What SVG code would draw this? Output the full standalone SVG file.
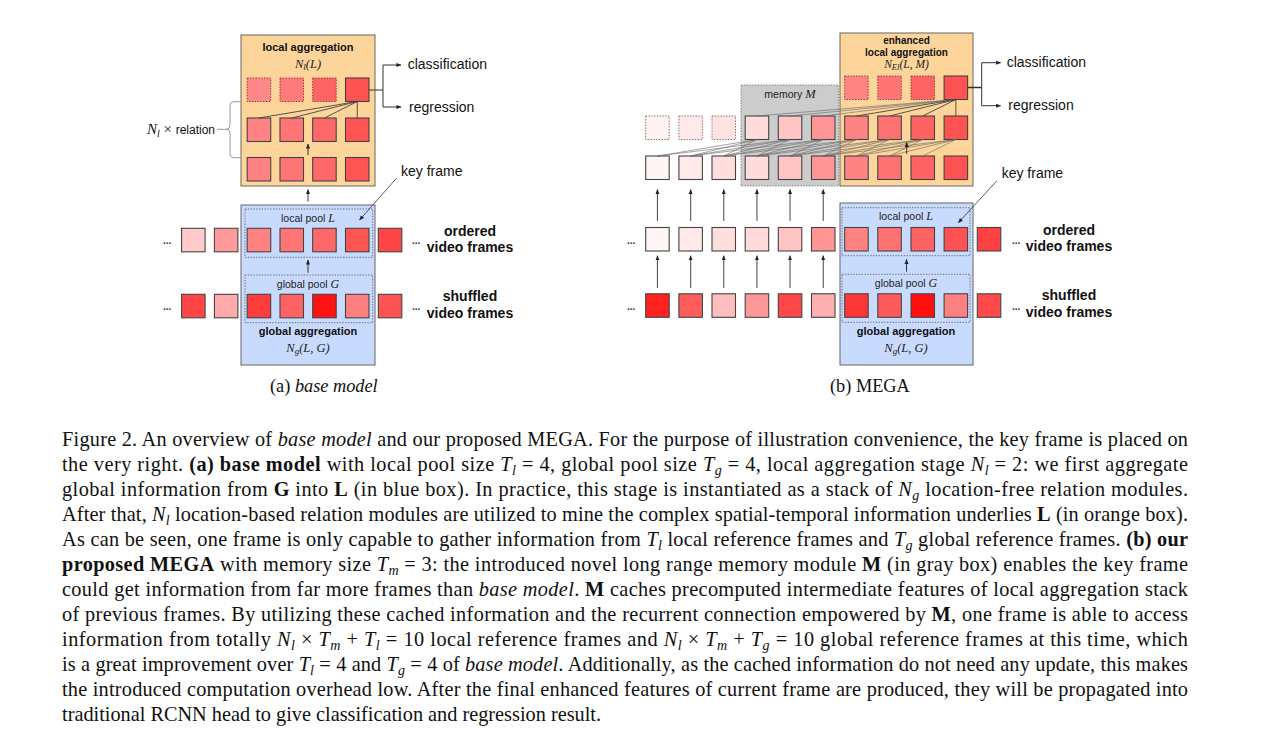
<svg xmlns="http://www.w3.org/2000/svg" width="1280" height="737" viewBox="0 0 1280 737">
<defs>
<style>
.sq{stroke:#444;stroke-width:1.1}
.dsq{stroke:#8a3a3a;stroke-width:1;stroke-dasharray:1.4 1.4}
.fsq{stroke:#8a6a6a;stroke-width:1;stroke-dasharray:1.4 1.4}
.pool{fill:none;stroke:#666;stroke-width:0.9;stroke-dasharray:1.4 1.4}
.ln{stroke:#333;stroke-width:1;fill:none}
.gl{stroke:#555;stroke-width:1.1;fill:none}
.th{stroke:#666;stroke-width:0.6;fill:none}
.sans{font-family:"Liberation Sans",Arial,sans-serif;fill:#111}
.b11{font-family:"Liberation Sans",Arial,sans-serif;font-weight:bold;font-size:11px;fill:#111}
.b10{font-family:"Liberation Sans",Arial,sans-serif;font-weight:bold;font-size:10px;fill:#111}
.b14{font-family:"Liberation Sans",Arial,sans-serif;font-weight:bold;font-size:14px;fill:#111}
.s14{font-family:"Liberation Sans",Arial,sans-serif;font-size:14px;fill:#111}
.s10{font-family:"Liberation Sans",Arial,sans-serif;font-size:10.5px;fill:#222}
.mi{font-family:"Liberation Serif","Times New Roman",serif;font-style:italic}
.cap{font-family:"Liberation Serif","Times New Roman",serif;font-size:20.3px;fill:#111}
.subcap{font-family:"Liberation Serif","Times New Roman",serif;font-size:18.3px;fill:#111}
.sub{font-size:14px;font-style:italic}
.bd{font-weight:bold}
.it{font-style:italic}
.dots{font-family:"Liberation Sans",Arial,sans-serif;font-size:10px;font-weight:bold;fill:#333}
</style>
<marker id="ah" viewBox="0 0 6 6" refX="5.5" refY="3" markerWidth="5" markerHeight="5" orient="auto" markerUnits="userSpaceOnUse"><path d="M0,0.6 L6,3 L0,5.4 z" fill="#222"/></marker>
</defs>
<rect width="1280" height="737" fill="#ffffff"/>

<!-- ============ LEFT: base model ============ -->
<g id="left-local-aggregation">
<rect x="241" y="35" width="134" height="151" fill="#fdd59b" stroke="#666" stroke-width="1"/>
<text class="b11" x="308" y="51" text-anchor="middle">local aggregation</text>
<text x="308" y="68" text-anchor="middle" class="mi" font-size="12.5px" fill="#222">N<tspan font-size="9px" dy="2">l</tspan><tspan dy="-2">(L)</tspan></text>
<rect class="dsq" x="247.2" y="78" width="23.5" height="23.5" fill="#ff8888"/>
<rect class="dsq" x="280" y="78" width="23.5" height="23.5" fill="#ff7a7a"/>
<rect class="dsq" x="312.7" y="78" width="23.5" height="23.5" fill="#ff6363"/>
<rect class="sq" x="345.5" y="78" width="23.5" height="23.5" fill="#ff5252"/>
<rect class="sq" x="247.2" y="118" width="23.5" height="23.5" fill="#ff8383"/>
<rect class="sq" x="280" y="118" width="23.5" height="23.5" fill="#ff7575"/>
<rect class="sq" x="312.7" y="118" width="23.5" height="23.5" fill="#ff6868"/>
<rect class="sq" x="345.5" y="118" width="23.5" height="23.5" fill="#ff5555"/>
<rect class="sq" x="247.2" y="157.5" width="23.5" height="23.5" fill="#ff8383"/>
<rect class="sq" x="280" y="157.5" width="23.5" height="23.5" fill="#ff7575"/>
<rect class="sq" x="312.7" y="157.5" width="23.5" height="23.5" fill="#ff6868"/>
<rect class="sq" x="345.5" y="157.5" width="23.5" height="23.5" fill="#ff5555"/>
</g>

<g id="left-global-aggregation">
<rect x="241" y="205" width="134" height="160" fill="#c8dafe" stroke="#666" stroke-width="1"/>
<rect class="pool" x="245" y="209" width="127.7" height="48.3"/>
<rect class="pool" x="245" y="275" width="127.7" height="47.7"/>
<text class="s10" x="308" y="222.3" text-anchor="middle">local pool <tspan class="mi" font-size="12px">L</tspan></text>
<text class="s10" x="308" y="288.3" text-anchor="middle">global pool <tspan class="mi" font-size="12px">G</tspan></text>
<text class="b11" x="308" y="335" text-anchor="middle">global aggregation</text>
<text x="308" y="352" text-anchor="middle" class="mi" font-size="12.5px" fill="#222">N<tspan font-size="9px" dy="2">g</tspan><tspan dy="-2">(L, G)</tspan></text>
</g>

<g id="left-ordered-frames">
<rect class="sq" x="181.6" y="228.3" width="23.5" height="23.5" fill="#ffcaca"/>
<rect class="sq" x="214.4" y="228.3" width="23.5" height="23.5" fill="#ff9a9a"/>
<rect class="sq" x="247.2" y="228.3" width="23.5" height="23.5" fill="#ff8383"/>
<rect class="sq" x="280" y="228.3" width="23.5" height="23.5" fill="#ff7575"/>
<rect class="sq" x="312.7" y="228.3" width="23.5" height="23.5" fill="#ff6868"/>
<rect class="sq" x="345.5" y="228.3" width="23.5" height="23.5" fill="#ff5555"/>
<rect class="sq" x="378.3" y="228.3" width="23.5" height="23.5" fill="#ff4646"/>
<text class="dots" x="163" y="244">...</text>
<text class="dots" x="412" y="244">...</text>
<text class="b14" x="470" y="235.5" text-anchor="middle">ordered</text>
<text class="b14" x="470" y="252" text-anchor="middle">video frames</text>
</g>

<g id="left-shuffled-frames">
<rect class="sq" x="181.6" y="294.3" width="23.5" height="23.5" fill="#ff4646"/>
<rect class="sq" x="214.4" y="294.3" width="23.5" height="23.5" fill="#ffaaaa"/>
<rect class="sq" x="247.2" y="294.3" width="23.5" height="23.5" fill="#ff3c3c"/>
<rect class="sq" x="280" y="294.3" width="23.5" height="23.5" fill="#ff6262"/>
<rect class="sq" x="312.7" y="294.3" width="23.5" height="23.5" fill="#ff1212"/>
<rect class="sq" x="345.5" y="294.3" width="23.5" height="23.5" fill="#ff8080"/>
<rect class="sq" x="378.3" y="294.3" width="23.5" height="23.5" fill="#ff5252"/>
<text class="dots" x="163" y="310">...</text>
<text class="dots" x="412" y="310">...</text>
<text class="b14" x="470" y="301" text-anchor="middle">shuffled</text>
<text class="b14" x="470" y="318" text-anchor="middle">video frames</text>
</g>

<g id="left-labels">
<text class="s14" x="407.7" y="69">classification</text>
<text class="s14" x="409" y="111.7">regression</text>
<text class="s14" x="401" y="175.7">key frame</text>
<text x="215" y="133.5" text-anchor="end" fill="#111"><tspan class="mi" font-size="15px">N</tspan><tspan class="mi" font-size="10px" dy="3">l</tspan><tspan dy="-3" font-family="Liberation Serif,serif" font-size="15px"> × </tspan><tspan class="sans" font-size="12px">relation</tspan></text>
</g>

<g id="left-connectors">
<path class="th" style="stroke:#444;stroke-width:0.9" d="M357.25,101.5 L258.95,118 M357.25,101.5 L291.75,118 M357.25,101.5 L324.45,118 M357.25,101.5 L357.25,118"/>
<path class="ln" d="M369,90 H383 M383,65 V107"/>
<path class="ln" marker-end="url(#ah)" d="M383,65 H401"/>
<path class="ln" marker-end="url(#ah)" d="M383,107 H401"/>
<path d="M241,101.7 H234 Q230,101.7 230,105.7 V125.3 Q230,129.3 226,129.3 H217 M226,129.3 Q230,129.3 230,133.3 V153.7 Q230,157.7 234,157.7 H241" fill="none" stroke="#999" stroke-width="1"/>
<path class="ln" marker-end="url(#ah)" d="M308,155 V144"/>
<path class="ln" marker-end="url(#ah)" d="M308,201.5 V189.5"/>
<path class="ln" marker-end="url(#ah)" d="M308,272.7 V260"/>
<path class="ln" style="stroke-width:0.8" marker-end="url(#ah)" d="M396.7,178 L359.5,220"/>
</g>

<!-- ============ RIGHT: MEGA ============ -->
<g id="right-memory">
<rect x="741" y="85" width="97.5" height="101" fill="#cccccc" stroke="#777" stroke-width="0.9" stroke-dasharray="1.4 1.4"/>
<text class="s10" x="790" y="98" text-anchor="middle">memory <tspan class="mi" font-size="12.5px">M</tspan></text>
</g>

<g id="right-enhanced-local-aggregation">
<rect x="840" y="33" width="133" height="153" fill="#fdd59b" stroke="#666" stroke-width="1"/>
<text class="b10" x="906.5" y="43.5" text-anchor="middle">enhanced</text>
<text class="b10" x="906.5" y="55.7" text-anchor="middle">local aggregation</text>
<text x="906.5" y="68" text-anchor="middle" class="mi" font-size="11.5px" fill="#222">N<tspan font-size="8.5px" dy="2">El</tspan><tspan dy="-2">(L, M)</tspan></text>
</g>

<g id="right-row1">
<rect class="dsq" x="844.7" y="76" width="23.5" height="23.5" fill="#ff8585"/>
<rect class="dsq" x="877.8" y="76" width="23.5" height="23.5" fill="#ff7575"/>
<rect class="dsq" x="911" y="76" width="23.5" height="23.5" fill="#ff6464"/>
<rect class="sq" x="944.1" y="76" width="23.5" height="23.5" fill="#ff5252"/>
</g>

<g id="right-row2">
<rect class="fsq" x="645.7" y="116" width="23.5" height="23.5" fill="#fff2f2"/>
<rect class="fsq" x="678.9" y="116" width="23.5" height="23.5" fill="#ffe9e9"/>
<rect class="fsq" x="712" y="116" width="23.5" height="23.5" fill="#ffe2e2"/>
<rect class="sq" x="745.2" y="116" width="23.5" height="23.5" fill="#ffdcdc"/>
<rect class="sq" x="778.3" y="116" width="23.5" height="23.5" fill="#ffc4c4"/>
<rect class="sq" x="811.5" y="116" width="23.5" height="23.5" fill="#ff9595"/>
<rect class="sq" x="844.7" y="116" width="23.5" height="23.5" fill="#ff8383"/>
<rect class="sq" x="877.8" y="116" width="23.5" height="23.5" fill="#ff7272"/>
<rect class="sq" x="911" y="116" width="23.5" height="23.5" fill="#ff6262"/>
<rect class="sq" x="944.1" y="116" width="23.5" height="23.5" fill="#ff5252"/>
</g>

<g id="right-row3">
<rect class="sq" x="645.7" y="156" width="23.5" height="23.5" fill="#fff5f5"/>
<rect class="sq" x="678.9" y="156" width="23.5" height="23.5" fill="#ffe9e9"/>
<rect class="sq" x="712" y="156" width="23.5" height="23.5" fill="#ffdede"/>
<rect class="sq" x="745.2" y="156" width="23.5" height="23.5" fill="#ffdcdc"/>
<rect class="sq" x="778.3" y="156" width="23.5" height="23.5" fill="#ffc4c4"/>
<rect class="sq" x="811.5" y="156" width="23.5" height="23.5" fill="#ff9595"/>
<rect class="sq" x="844.7" y="156" width="23.5" height="23.5" fill="#ff8383"/>
<rect class="sq" x="877.8" y="156" width="23.5" height="23.5" fill="#ff7272"/>
<rect class="sq" x="911" y="156" width="23.5" height="23.5" fill="#ff6262"/>
<rect class="sq" x="944.1" y="156" width="23.5" height="23.5" fill="#ff5252"/>
</g>

<g id="right-global-aggregation">
<rect x="840" y="203" width="133" height="162" fill="#c8dafe" stroke="#666" stroke-width="1"/>
<rect class="pool" x="842" y="207.7" width="128" height="48"/>
<rect class="pool" x="842" y="274.3" width="128" height="48"/>
<text class="s10" x="906" y="220" text-anchor="middle">local pool <tspan class="mi" font-size="12px">L</tspan></text>
<text class="s10" x="906" y="286.7" text-anchor="middle">global pool <tspan class="mi" font-size="12px">G</tspan></text>
<text class="b11" x="906" y="335" text-anchor="middle">global aggregation</text>
<text x="906" y="352" text-anchor="middle" class="mi" font-size="12.5px" fill="#222">N<tspan font-size="9px" dy="2">g</tspan><tspan dy="-2">(L, G)</tspan></text>
</g>

<g id="right-ordered-frames">
<rect class="sq" x="645.7" y="227.5" width="23.5" height="23.5" fill="#fff5f5"/>
<rect class="sq" x="678.9" y="227.5" width="23.5" height="23.5" fill="#ffe9e9"/>
<rect class="sq" x="712" y="227.5" width="23.5" height="23.5" fill="#ffdede"/>
<rect class="sq" x="745.2" y="227.5" width="23.5" height="23.5" fill="#ffdada"/>
<rect class="sq" x="778.3" y="227.5" width="23.5" height="23.5" fill="#ffc4c4"/>
<rect class="sq" x="811.5" y="227.5" width="23.5" height="23.5" fill="#ff9595"/>
<rect class="sq" x="844.7" y="227.5" width="23.5" height="23.5" fill="#ff8383"/>
<rect class="sq" x="877.8" y="227.5" width="23.5" height="23.5" fill="#ff7272"/>
<rect class="sq" x="911" y="227.5" width="23.5" height="23.5" fill="#ff6262"/>
<rect class="sq" x="944.1" y="227.5" width="23.5" height="23.5" fill="#ff5252"/>
<rect class="sq" x="977.3" y="227.5" width="23.5" height="23.5" fill="#ff4242"/>
<text class="dots" x="627" y="243.5">...</text>
<text class="dots" x="1012" y="243.5">...</text>
<text class="b14" x="1069" y="234.5" text-anchor="middle">ordered</text>
<text class="b14" x="1069" y="251" text-anchor="middle">video frames</text>
</g>

<g id="right-shuffled-frames">
<rect class="sq" x="645.7" y="293.8" width="23.5" height="23.5" fill="#ff2020"/>
<rect class="sq" x="678.9" y="293.8" width="23.5" height="23.5" fill="#ff5c5c"/>
<rect class="sq" x="712" y="293.8" width="23.5" height="23.5" fill="#ffbebe"/>
<rect class="sq" x="745.2" y="293.8" width="23.5" height="23.5" fill="#ff9898"/>
<rect class="sq" x="778.3" y="293.8" width="23.5" height="23.5" fill="#ff4848"/>
<rect class="sq" x="811.5" y="293.8" width="23.5" height="23.5" fill="#ffb0b0"/>
<rect class="sq" x="844.7" y="293.8" width="23.5" height="23.5" fill="#ff3636"/>
<rect class="sq" x="877.8" y="293.8" width="23.5" height="23.5" fill="#ff5a5a"/>
<rect class="sq" x="911" y="293.8" width="23.5" height="23.5" fill="#ff1010"/>
<rect class="sq" x="944.1" y="293.8" width="23.5" height="23.5" fill="#ff8080"/>
<rect class="sq" x="977.3" y="293.8" width="23.5" height="23.5" fill="#ff4a4a"/>
<text class="dots" x="627" y="309.5">...</text>
<text class="dots" x="1012" y="309.5">...</text>
<text class="b14" x="1069" y="300" text-anchor="middle">shuffled</text>
<text class="b14" x="1069" y="317" text-anchor="middle">video frames</text>
</g>

<g id="right-labels">
<text class="s14" x="1006.7" y="67">classification</text>
<text class="s14" x="1008.3" y="109.5">regression</text>
<text class="s14" x="1001.7" y="177.7">key frame</text>
</g>

<g id="right-connectors">
<path class="th" d="M756.95,139.5 L723.75,156 M756.95,139.5 L690.65,156 M756.95,139.5 L657.45,156 M790.05,139.5 L756.95,156 M790.05,139.5 L723.75,156 M790.05,139.5 L690.65,156 M790.05,139.5 L657.45,156 M823.25,139.5 L790.05,156 M823.25,139.5 L756.95,156 M823.25,139.5 L723.75,156 M823.25,139.5 L690.65,156 M856.45,139.5 L823.25,156 M856.45,139.5 L790.05,156 M856.45,139.5 L756.95,156 M856.45,139.5 L723.75,156 M889.55,139.5 L856.45,156 M889.55,139.5 L823.25,156 M889.55,139.5 L790.05,156 M889.55,139.5 L756.95,156 M922.75,139.5 L889.55,156 M922.75,139.5 L856.45,156 M922.75,139.5 L823.25,156 M922.75,139.5 L790.05,156 M955.85,139.5 L922.75,156 M955.85,139.5 L889.55,156 M955.85,139.5 L856.45,156 M955.85,139.5 L823.25,156"/>
<path class="th" d="M955.85,99.5 L756.95,116 M955.85,99.5 L790.05,116 M955.85,99.5 L823.25,116"/>
<path class="th" style="stroke:#444;stroke-width:0.9" d="M955.85,99.5 L856.45,116 M955.85,99.5 L889.55,116 M955.85,99.5 L922.75,116 M955.85,99.5 L955.85,116"/>
<path class="ln" style="stroke-width:1.5" d="M967.6,87.5 H981.7"/>
<path class="ln" d="M981.7,62.7 V105.7"/>
<path class="ln" marker-end="url(#ah)" d="M981.7,62.7 H1000.7"/>
<path class="ln" marker-end="url(#ah)" d="M981.7,105.7 H1000.7"/>
<path class="ln" marker-end="url(#ah)" d="M906.7,154 V142.5"/>
<path class="ln" marker-end="url(#ah)" d="M906.5,271.7 V259.3"/>
<path class="ln" style="stroke-width:0.8" marker-end="url(#ah)" d="M996.7,181 L958.3,222.7"/>
<path class="gl" marker-end="url(#ah)" d="M657.45,221 V189.5"/>
<path class="gl" marker-end="url(#ah)" d="M690.65,221 V189.5"/>
<path class="gl" marker-end="url(#ah)" d="M723.75,221 V189.5"/>
<path class="gl" marker-end="url(#ah)" d="M756.95,221 V189.5"/>
<path class="gl" marker-end="url(#ah)" d="M790.05,221 V189.5"/>
<path class="gl" marker-end="url(#ah)" d="M823.25,221 V189.5"/>
<path class="gl" marker-end="url(#ah)" d="M657.45,288 V255.7"/>
<path class="gl" marker-end="url(#ah)" d="M690.65,288 V255.7"/>
<path class="gl" marker-end="url(#ah)" d="M723.75,288 V255.7"/>
<path class="gl" marker-end="url(#ah)" d="M756.95,288 V255.7"/>
<path class="gl" marker-end="url(#ah)" d="M790.05,288 V255.7"/>
<path class="gl" marker-end="url(#ah)" d="M823.25,288 V255.7"/>
</g>

<!-- ============ captions ============ -->
<g id="subcaptions">
<text class="subcap" x="270" y="392">(a) <tspan class="it">base model</tspan></text>
<text class="subcap" x="830" y="392">(b) MEGA</text>
</g>

<g id="caption">
<text class="cap" x="62" y="446" textLength="1126" lengthAdjust="spacing">Figure 2. An overview of <tspan class="it">base model</tspan> and our proposed MEGA. For the purpose of illustration convenience, the key frame is placed on</text>
<text class="cap" x="62" y="471" textLength="1126" lengthAdjust="spacing">the very right. <tspan class="bd">(a) base model</tspan> with local pool size <tspan class="it">T</tspan><tspan class="sub" dy="4">l</tspan><tspan dy="-4"> = 4, global pool size </tspan><tspan class="it">T</tspan><tspan class="sub" dy="4">g</tspan><tspan dy="-4"> = 4, local aggregation stage </tspan><tspan class="it">N</tspan><tspan class="sub" dy="4">l</tspan><tspan dy="-4"> = 2: we first aggregate</tspan></text>
<text class="cap" x="62" y="496" textLength="1126" lengthAdjust="spacing">global information from <tspan class="bd">G</tspan> into <tspan class="bd">L</tspan> (in blue box). In practice, this stage is instantiated as a stack of <tspan class="it">N</tspan><tspan class="sub" dy="4">g</tspan><tspan dy="-4"> location-free relation modules.</tspan></text>
<text class="cap" x="62" y="521" textLength="1126" lengthAdjust="spacing">After that, <tspan class="it">N</tspan><tspan class="sub" dy="4">l</tspan><tspan dy="-4"> location-based relation modules are utilized to mine the complex spatial-temporal information underlies </tspan><tspan class="bd">L</tspan> (in orange box).</text>
<text class="cap" x="62" y="546" textLength="1126" lengthAdjust="spacing">As can be seen, one frame is only capable to gather information from <tspan class="it">T</tspan><tspan class="sub" dy="4">l</tspan><tspan dy="-4"> local reference frames and </tspan><tspan class="it">T</tspan><tspan class="sub" dy="4">g</tspan><tspan dy="-4"> global reference frames. </tspan><tspan class="bd">(b) our</tspan></text>
<text class="cap" x="62" y="571" textLength="1126" lengthAdjust="spacing"><tspan class="bd">proposed MEGA</tspan> with memory size <tspan class="it">T</tspan><tspan class="sub" dy="4">m</tspan><tspan dy="-4"> = 3: the introduced novel long range memory module </tspan><tspan class="bd">M</tspan> (in gray box) enables the key frame</text>
<text class="cap" x="62" y="596" textLength="1126" lengthAdjust="spacing">could get information from far more frames than <tspan class="it">base model</tspan>. <tspan class="bd">M</tspan> caches precomputed intermediate features of local aggregation stack</text>
<text class="cap" x="62" y="621" textLength="1126" lengthAdjust="spacing">of previous frames. By utilizing these cached information and the recurrent connection empowered by <tspan class="bd">M</tspan>, one frame is able to access</text>
<text class="cap" x="62" y="646" textLength="1126" lengthAdjust="spacing">information from totally <tspan class="it">N</tspan><tspan class="sub" dy="4">l</tspan><tspan dy="-4"> × </tspan><tspan class="it">T</tspan><tspan class="sub" dy="4">m</tspan><tspan dy="-4"> + </tspan><tspan class="it">T</tspan><tspan class="sub" dy="4">l</tspan><tspan dy="-4"> = 10 local reference frames and </tspan><tspan class="it">N</tspan><tspan class="sub" dy="4">l</tspan><tspan dy="-4"> × </tspan><tspan class="it">T</tspan><tspan class="sub" dy="4">m</tspan><tspan dy="-4"> + </tspan><tspan class="it">T</tspan><tspan class="sub" dy="4">g</tspan><tspan dy="-4"> = 10 global reference frames at this time, which</tspan></text>
<text class="cap" x="62" y="671" textLength="1126" lengthAdjust="spacing">is a great improvement over <tspan class="it">T</tspan><tspan class="sub" dy="4">l</tspan><tspan dy="-4"> = 4 and </tspan><tspan class="it">T</tspan><tspan class="sub" dy="4">g</tspan><tspan dy="-4"> = 4 of </tspan><tspan class="it">base model</tspan>. Additionally, as the cached information do not need any update, this makes</text>
<text class="cap" x="62" y="696" textLength="1126" lengthAdjust="spacing">the introduced computation overhead low. After the final enhanced features of current frame are produced, they will be propagated into</text>
<text class="cap" x="62" y="721">traditional RCNN head to give classification and regression result.</text>
</g>
</svg>
